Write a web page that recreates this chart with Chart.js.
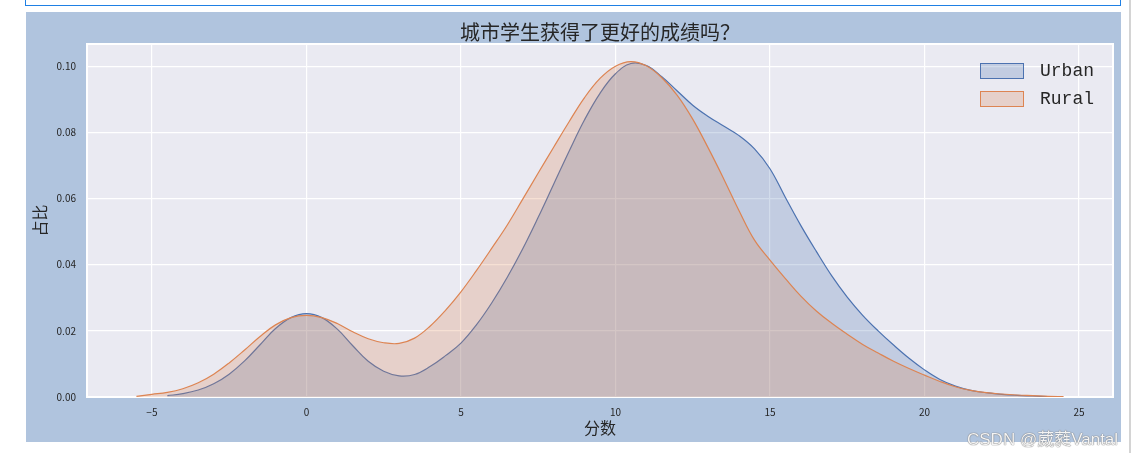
<!DOCTYPE html>
<html>
<head>
<meta charset="utf-8">
<script src="https://cdn.jsdelivr.net/npm/chart.js@4.4.1/dist/chart.umd.min.js"></script>
<style>
  html, body { margin: 0; padding: 0; background: #fff; width: 1132px; height: 453px; overflow: hidden; }
  #topBox { position: absolute; left: 25px; top: -20px; width: 1094px; height: 24px; border: 1px solid #1f80e4; background: #fff; }
  #scrollEdge { position: absolute; left: 1129px; top: 0; width: 2px; height: 453px; background: #d4d4d4; }
  #panel { position: absolute; left: 26px; top: 12px; width: 1095px; height: 430px; background: #b0c4de; }
  #legend { position: absolute; left: 980px; top: 63px; }
  .item { display: flex; align-items: center; height: 16px; margin-bottom: 12px; }
  .patch { width: 42px; height: 14px; border: 1px solid; }
  .label { margin-left: 16px; font: 18px "Liberation Mono", monospace; color: #262626; line-height: 16px; }
  #mark { position: absolute; left: 967px; top: 425px; font: 17px "Liberation Sans", "Noto Sans CJK SC", sans-serif;
          color: #f4f4f4; text-shadow: 0 0 1px #6f6f6f, 0 0 1px #6f6f6f; white-space: nowrap; }
</style>
</head>
<body>
<div id="topBox"></div>
<div id="scrollEdge"></div>
<div id="panel"><canvas id="kde"></canvas></div>
<div id="legend"></div>
<div id="mark">CSDN @葳蕤Vantal</div>
<script>
// score grid (x) and the two density curves
const scores = [
  -5.5, -5, -4.5, -4, -3.5, -3, -2.5, -2, -1.5, -1,
  -0.5, 0, 0.5, 1, 1.5, 2, 2.5, 3, 3.5, 4,
  4.5, 5, 5.5, 6, 6.5, 7, 7.5, 8, 8.5, 9,
  9.5, 10, 10.5, 11, 11.5, 12, 12.5, 13, 13.5, 14,
  14.5, 15, 15.5, 16, 16.5, 17, 17.5, 18, 18.5, 19,
  19.5, 20, 20.5, 21, 21.5, 22, 22.5, 23, 23.5, 24,
  24.5
];
const urban = [
  null, null, 0.0004, 0.0010, 0.0021, 0.0040, 0.0069, 0.0109, 0.0158, 0.0207,
  0.0240, 0.0252, 0.0240, 0.0205, 0.0155, 0.0108, 0.0078, 0.0064, 0.0068, 0.0092,
  0.0125, 0.0163, 0.0218, 0.0285, 0.0362, 0.0448, 0.0543, 0.0643, 0.0743, 0.0838,
  0.0918, 0.0977, 0.1008, 0.1002, 0.0968, 0.0925, 0.0882, 0.0848, 0.0819, 0.0790,
  0.0750, 0.0690, 0.0603, 0.0518, 0.0440, 0.0366, 0.0302, 0.0247, 0.0200, 0.0157,
  0.0117, 0.0082, 0.0053, 0.0033, 0.0020, 0.0013, 0.0008, 0.0005, 0.0003, 0.0001,
  null
];
const rural = [
  0.0002, 0.0008, 0.0014, 0.0025, 0.0043, 0.0069, 0.0103, 0.0142, 0.0183, 0.0218,
  0.0240, 0.0247, 0.0240, 0.0222, 0.0197, 0.0176, 0.0164, 0.0162, 0.0178, 0.0214,
  0.0262, 0.0318, 0.0382, 0.0450, 0.0520, 0.0598, 0.0677, 0.0755, 0.0832, 0.0905,
  0.0963, 0.1000, 0.1014, 0.1001, 0.0965, 0.0912, 0.0840, 0.0753, 0.0660, 0.0563,
  0.0474, 0.0414, 0.0358, 0.0305, 0.0260, 0.0223, 0.0190, 0.0159, 0.0133, 0.0108,
  0.0086, 0.0066, 0.0047, 0.0031, 0.0020, 0.0013, 0.0009, 0.0006, 0.0004, 0.0002,
  0.0001
];
const seriesNames = ['Urban', 'Rural'];
const titleText = '城市学生获得了更好的成绩吗？';
const xTitle = '分数';
const yTitle = '占比';

const cjk = '"Noto Sans CJK SC", "DejaVu Sans", sans-serif';
const ink = '#262626';

function points(values) {
  return scores.map((x, i) => ({ x: x, y: values[i] }));
}

// seaborn-like grey plot area with white frame
const plotBackground = {
  id: 'plotBackground',
  beforeDraw(chart) {
    const { ctx, chartArea: a } = chart;
    ctx.save();
    ctx.fillStyle = '#eaeaf2';
    ctx.fillRect(a.left, a.top, a.width, a.height);
    ctx.strokeStyle = '#ffffff';
    ctx.lineWidth = 2;
    ctx.strokeRect(a.left, a.top, a.width, a.height);
    ctx.restore();
  }
};

const myChart = new Chart(document.getElementById('kde'), {
  type: 'line',
  data: {
    datasets: [
      {
        label: seriesNames[0],
        data: points(urban),
        borderColor: '#4c72b0',
        backgroundColor: 'rgba(76, 114, 176, 0.25)',
        borderWidth: 1.2,
        fill: 'origin',
        order: 1
      },
      {
        label: seriesNames[1],
        data: points(rural),
        borderColor: '#dd8452',
        backgroundColor: 'rgba(221, 132, 82, 0.25)',
        borderWidth: 1.2,
        fill: 'origin',
        order: 0
      }
    ]
  },
  options: {
    responsive: true,
    maintainAspectRatio: false,
    animation: false,
    events: [],
    elements: {
      point: { radius: 0 },
      line: { tension: 0.4 }
    },
    layout: { padding: { left: 0, right: 8, top: 0, bottom: 0 } },
    plugins: {
      legend: { display: false },
      tooltip: { enabled: false },
      title: {
        display: true,
        text: titleText,
        fullSize: false,
        color: ink,
        font: { family: cjk, size: 20, weight: 'normal' },
        padding: { top: 8, bottom: 0 }
      }
    },
    scales: {
      x: {
        type: 'linear',
        min: -7.1,
        max: 26.1,
        afterFit: (scale) => { scale.height = 45; },
        border: { display: false },
        grid: { color: '#ffffff', lineWidth: 1.2, drawTicks: false },
        ticks: {
          stepSize: 5,
          includeBounds: false,
          padding: 9,
          color: ink,
          font: { family: cjk, size: 10 },
          callback: (v) => (v < 0 ? '\u2212' + Math.abs(v) : String(v))
        },
        title: {
          display: true,
          text: xTitle,
          color: ink,
          font: { family: cjk, size: 16 },
          padding: { top: 0, bottom: 4 }
        }
      },
      y: {
        min: 0,
        max: 0.1067,
        afterFit: (scale) => { scale.width = 61; },
        border: { display: false },
        grid: { color: '#ffffff', lineWidth: 1.2, drawTicks: false },
        ticks: {
          stepSize: 0.02,
          includeBounds: false,
          padding: 11,
          color: ink,
          font: { family: cjk, size: 10 },
          callback: (v) => v.toFixed(2)
        },
        title: {
          display: true,
          text: yTitle,
          color: ink,
          font: { family: cjk, size: 16 },
          padding: { top: 4, bottom: 0 }
        }
      }
    }
  },
  plugins: [plotBackground]
});

// html legend built from the datasets
const legendBox = document.getElementById('legend');
myChart.data.datasets.forEach((ds) => {
  const row = document.createElement('div');
  row.className = 'item';
  const patch = document.createElement('div');
  patch.className = 'patch';
  patch.style.background = ds.backgroundColor;
  patch.style.borderColor = ds.borderColor;
  const text = document.createElement('span');
  text.className = 'label';
  text.textContent = ds.label;
  row.appendChild(patch);
  row.appendChild(text);
  legendBox.appendChild(row);
});
</script>
</body>
</html>
